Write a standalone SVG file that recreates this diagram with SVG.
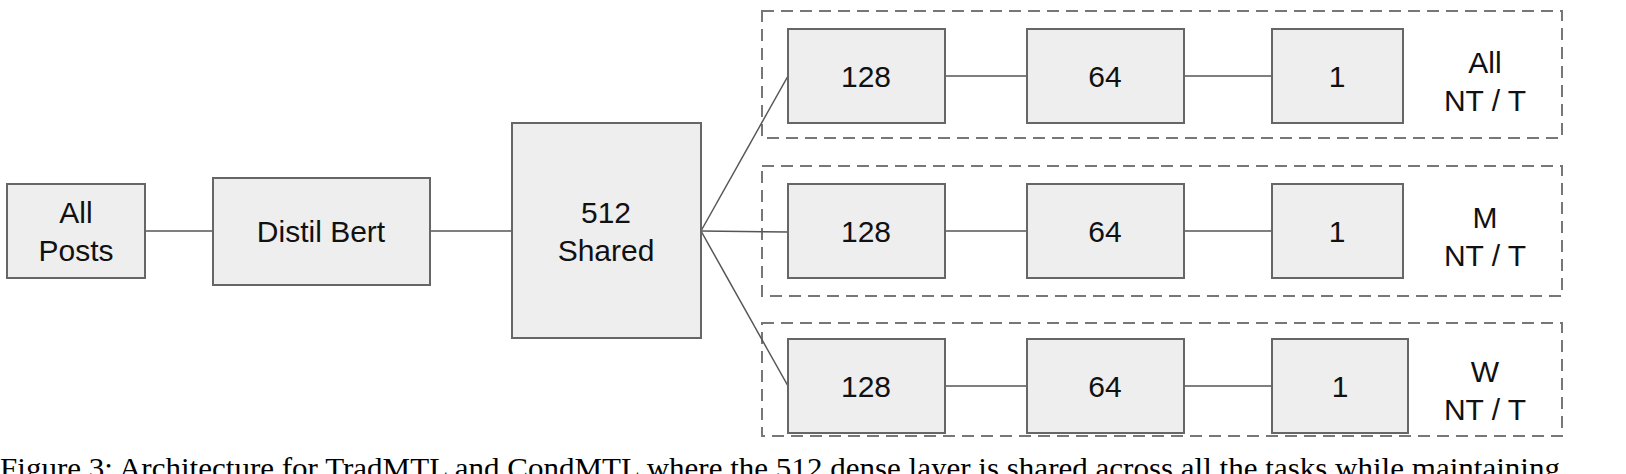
<svg xmlns="http://www.w3.org/2000/svg" width="1626" height="474" viewBox="0 0 1626 474">
<style>
.n{fill:#eeeeee;stroke:#666;stroke-width:2}
.t{font-family:"Liberation Sans",Arial,sans-serif;font-size:30px;fill:#111;text-anchor:middle}
.g{fill:none;stroke:#777;stroke-width:2;stroke-dasharray:12 7}
.c{stroke:#555;stroke-width:1.5;fill:none}
</style>
<rect width="1626" height="474" fill="#fff"/>
<g id="groups">
<rect class="g" x="762" y="11" width="800" height="127"/>
<rect class="g" x="762" y="166" width="800" height="130"/>
<rect class="g" x="762" y="323" width="800" height="113"/>
</g>
<g id="connectors">
<line class="c" x1="145" y1="231" x2="213" y2="231"/>
<line class="c" x1="430" y1="231" x2="512" y2="231"/>
<line class="c" x1="701" y1="231" x2="788" y2="76"/>
<line class="c" x1="701" y1="231" x2="788" y2="232"/>
<line class="c" x1="701" y1="231" x2="788" y2="386"/>
<line class="c" x1="945" y1="76" x2="1027" y2="76"/>
<line class="c" x1="1184" y1="76" x2="1272" y2="76"/>
<line class="c" x1="945" y1="231" x2="1027" y2="231"/>
<line class="c" x1="1184" y1="231" x2="1272" y2="231"/>
<line class="c" x1="945" y1="386" x2="1027" y2="386"/>
<line class="c" x1="1184" y1="386" x2="1272" y2="386"/>
</g>
<g id="allposts"><rect class="n" x="7" y="184" width="138" height="94"/><text class="t" x="76" y="223">All</text><text class="t" x="76" y="261">Posts</text></g>
<g id="distilbert"><rect class="n" x="213" y="178" width="217" height="107"/><text class="t" x="321" y="242">Distil Bert</text></g>
<g id="shared"><rect class="n" x="512" y="123" width="189" height="215"/><text class="t" x="606" y="223">512</text><text class="t" x="606" y="261">Shared</text></g>
<g id="r1a"><rect class="n" x="788" y="29" width="157" height="94"/><text class="t" x="866" y="87">128</text></g>
<g id="r1b"><rect class="n" x="1027" y="29" width="157" height="94"/><text class="t" x="1105" y="87">64</text></g>
<g id="r1c"><rect class="n" x="1272" y="29" width="131" height="94"/><text class="t" x="1337" y="87">1</text></g>
<g id="r1l"><text class="t" x="1485" y="73">All</text><text class="t" x="1485" y="111">NT / T</text></g>
<g id="r2a"><rect class="n" x="788" y="184" width="157" height="94"/><text class="t" x="866" y="242">128</text></g>
<g id="r2b"><rect class="n" x="1027" y="184" width="157" height="94"/><text class="t" x="1105" y="242">64</text></g>
<g id="r2c"><rect class="n" x="1272" y="184" width="131" height="94"/><text class="t" x="1337" y="242">1</text></g>
<g id="r2l"><text class="t" x="1485" y="228">M</text><text class="t" x="1485" y="266">NT / T</text></g>
<g id="r3a"><rect class="n" x="788" y="339" width="157" height="94"/><text class="t" x="866" y="397">128</text></g>
<g id="r3b"><rect class="n" x="1027" y="339" width="157" height="94"/><text class="t" x="1105" y="397">64</text></g>
<g id="r3c"><rect class="n" x="1272" y="339" width="136" height="94"/><text class="t" x="1340" y="397">1</text></g>
<g id="r3l"><text class="t" x="1485" y="382">W</text><text class="t" x="1485" y="420">NT / T</text></g>
<text x="0" y="478" font-family="Liberation Serif,Times New Roman,serif" font-size="29" fill="#000" textLength="1560" lengthAdjust="spacingAndGlyphs">Figure 3: Architecture for TradMTL and CondMTL where the 512 dense layer is shared across all the tasks while maintaining</text>
</svg>
